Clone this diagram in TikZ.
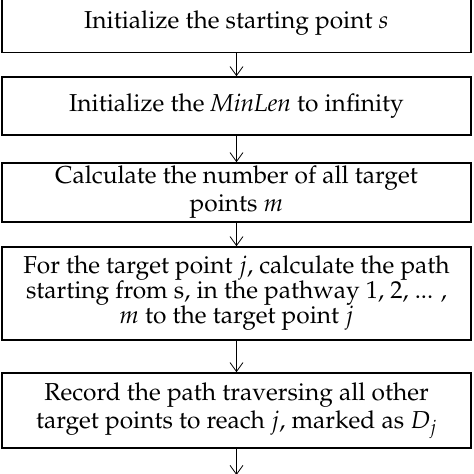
\documentclass[tikz,border=0pt]{standalone}
\usepackage[T1]{fontenc}
\usepackage{mathpazo}
\usetikzlibrary{arrows.meta}

\begin{document}
\begin{tikzpicture}[
    x=1pt, y=1pt,
    stepbox/.style={draw=black, line width=1.6pt, minimum width=469pt,
        align=center, inner sep=0pt, font=\fontsize{24.5}{28}\selectfont},
    flow/.style={line width=0.8pt, -{Straight Barb[length=9pt, width=13pt]}}
]
    \useasboundingbox (0,0) rectangle (474,-474);
    % Schritte
    \node[stepbox, minimum height=59pt] (init) at (236.5,-23) {Initialize the starting point $s$};
    \node[stepbox, minimum height=58pt] (minlen) at (236.5,-106) {Initialize the \textit{MinLen} to infinity};
    \node[stepbox, minimum height=59pt] (count) at (236.5,-192.5)
        {Calculate the number of all target\\points $m$};
    \node[stepbox, minimum height=93pt] (path) at (236.5,-293.5)
        {For the target point $j$, calculate the path\\[-3pt]starting from s, in the pathway 1, 2, ... ,\\[-3pt]$m$ to the target point $j$};
    \node[stepbox, minimum height=75pt] (record) at (236.5,-410.5)
        {Record the path traversing all other\\target points to reach $j$, marked as $D_j$};
    \coordinate (next) at (236.5,-475);
    % Pfeile
    \draw[flow] (init) -- (minlen);
    \draw[flow] (minlen) -- (count);
    \draw[flow] (count) -- (path);
    \draw[flow] (path) -- (record);
    \draw[flow] (record) -- (next);
\end{tikzpicture}
\end{document}
